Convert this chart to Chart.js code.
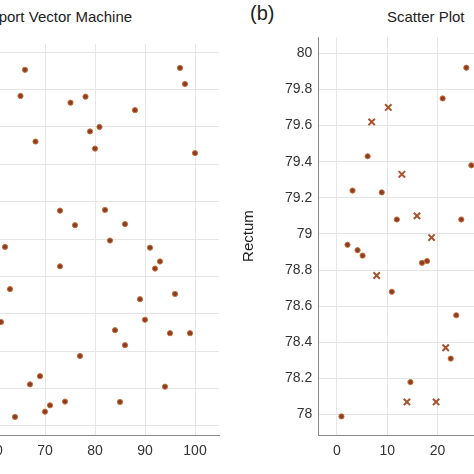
<!DOCTYPE html>
<html><head><meta charset="utf-8">
<script src="https://cdn.jsdelivr.net/npm/chart.js@4"></script>
<style>
html,body{margin:0;padding:0;background:#fff;width:474px;height:474px;overflow:hidden;position:relative;font-family:"Liberation Sans",Arial,sans-serif;}
canvas{position:absolute;}
.t{position:absolute;color:#222;font-size:15px;white-space:nowrap;}
</style></head><body>
<div class="t" style="left:-28px;top:8px;">Support Vector Machine</div>
<div class="t" style="left:250px;top:2px;font-size:20px;">(b)</div>
<div class="t" style="left:387px;top:8px;">Scatter Plot</div>
<div style="position:absolute;left:-60px;top:0;width:285px;height:474px;"><canvas id="c1"></canvas></div>
<div style="position:absolute;left:240px;top:0;width:333px;height:474px;"><canvas id="c2"></canvas></div>
<script>
const svmX=[66,65.1,97,98,75.1,78.1,88,79,80.9,68.1,80,100,73,82,76,86,83,62,91,93,92,73,63,96,89,61.2,90,84,95,99,86,77,69,67,94,74,71,70,85,64];
const svmY=[9.53,8.83,9.58,9.15,8.65,8.81,8.45,7.88,8.0,7.61,7.42,7.30,5.76,5.78,5.37,5.40,4.96,4.79,4.77,4.40,4.21,4.27,3.66,3.53,3.39,2.78,2.84,2.56,2.48,2.48,2.16,1.87,1.33,1.11,1.05,0.65,0.55,0.38,0.64,0.24];
const dotX=[25.7,21.0,26.7,6.1,3.1,8.9,11.9,24.7,2.1,4.1,5.1,16.9,17.9,10.9,23.7,22.6,14.6,0.9];
const dotY=[79.92,79.75,79.38,79.43,79.24,79.23,79.08,79.08,78.94,78.91,78.88,78.84,78.85,78.68,78.55,78.31,78.18,77.99];
const crossX=[10.2,6.9,12.9,15.9,18.8,7.9,21.6,13.9,19.7];
const crossY=[79.70,79.62,79.33,79.10,78.98,78.77,78.37,78.07,78.07];
const xTicksL=[60,70,80,90,100];
const xTicksR=[0,10,20,30,40];
const yTicksR=[78,78.2,78.4,78.6,78.8,79,79.2,79.4,79.6,79.8,80];
const yGridL=[0,1,2,3,4,5,6,7,8,9,10];

const fnt={family:"'Liberation Sans', Arial, sans-serif",size:14};
const grid={color:'#e6e6e6',drawTicks:false};
const border={color:'#8a8a8a',width:1};
function pts(xs,ys){return xs.map((x,i)=>({x:x,y:ys[i]}));}
const dotStyle={pointStyle:'circle',pointRadius:2.6,pointBackgroundColor:'#8a3d22',pointBorderColor:'#c8703a',pointBorderWidth:1,showLine:false};

new Chart(document.getElementById('c1'),{type:'scatter',
data:{datasets:[Object.assign({data:pts(svmX,svmY)},dotStyle)]},
options:{responsive:true,maintainAspectRatio:false,animation:false,
layout:{padding:{top:44,right:6,left:0,bottom:6}},
plugins:{legend:{display:false},tooltip:{enabled:false}},
scales:{
x:{type:'linear',min:58,max:104.8,grid:grid,border:border,
 afterBuildTicks:a=>{a.ticks=xTicksL.map(v=>({value:v}));},
 ticks:{font:fnt,color:'#333',padding:8}},
y:{type:'linear',min:-0.25,max:10.22,grid:grid,border:{display:false},
 afterBuildTicks:a=>{a.ticks=yGridL.map(v=>({value:v}));},
 afterFit:a=>{a.width=45;},
 ticks:{display:true,color:'rgba(0,0,0,0)',font:fnt}}
}}});

new Chart(document.getElementById('c2'),{type:'scatter',
data:{datasets:[
 Object.assign({data:pts(dotX,dotY)},dotStyle),
 {data:pts(crossX,crossY),pointStyle:'crossRot',pointRadius:4.5,pointBorderColor:'#a8532c',pointBorderWidth:2,showLine:false}
]},
options:{responsive:true,maintainAspectRatio:false,animation:false,
layout:{padding:{top:37,right:6,left:0,bottom:6}},
plugins:{legend:{display:false},tooltip:{enabled:false}},
scales:{
x:{type:'linear',min:-3.7,max:45.6,grid:grid,border:border,
 afterBuildTicks:a=>{a.ticks=xTicksR.map(v=>({value:v}));},
 ticks:{font:fnt,color:'#333',padding:8}},
y:{type:'linear',min:77.886,max:80.09,grid:grid,border:border,
 afterBuildTicks:a=>{a.ticks=yTicksR.map(v=>({value:v}));},
 afterFit:a=>{a.width=78.3;},
 title:{display:true,text:'Rectum',font:{family:fnt.family,size:15},color:'#222',padding:{top:0,bottom:6}},
 ticks:{font:fnt,color:'#333',padding:6,callback:v=>String(parseFloat(v.toFixed(1)))}}
}}});
</script></body></html>
